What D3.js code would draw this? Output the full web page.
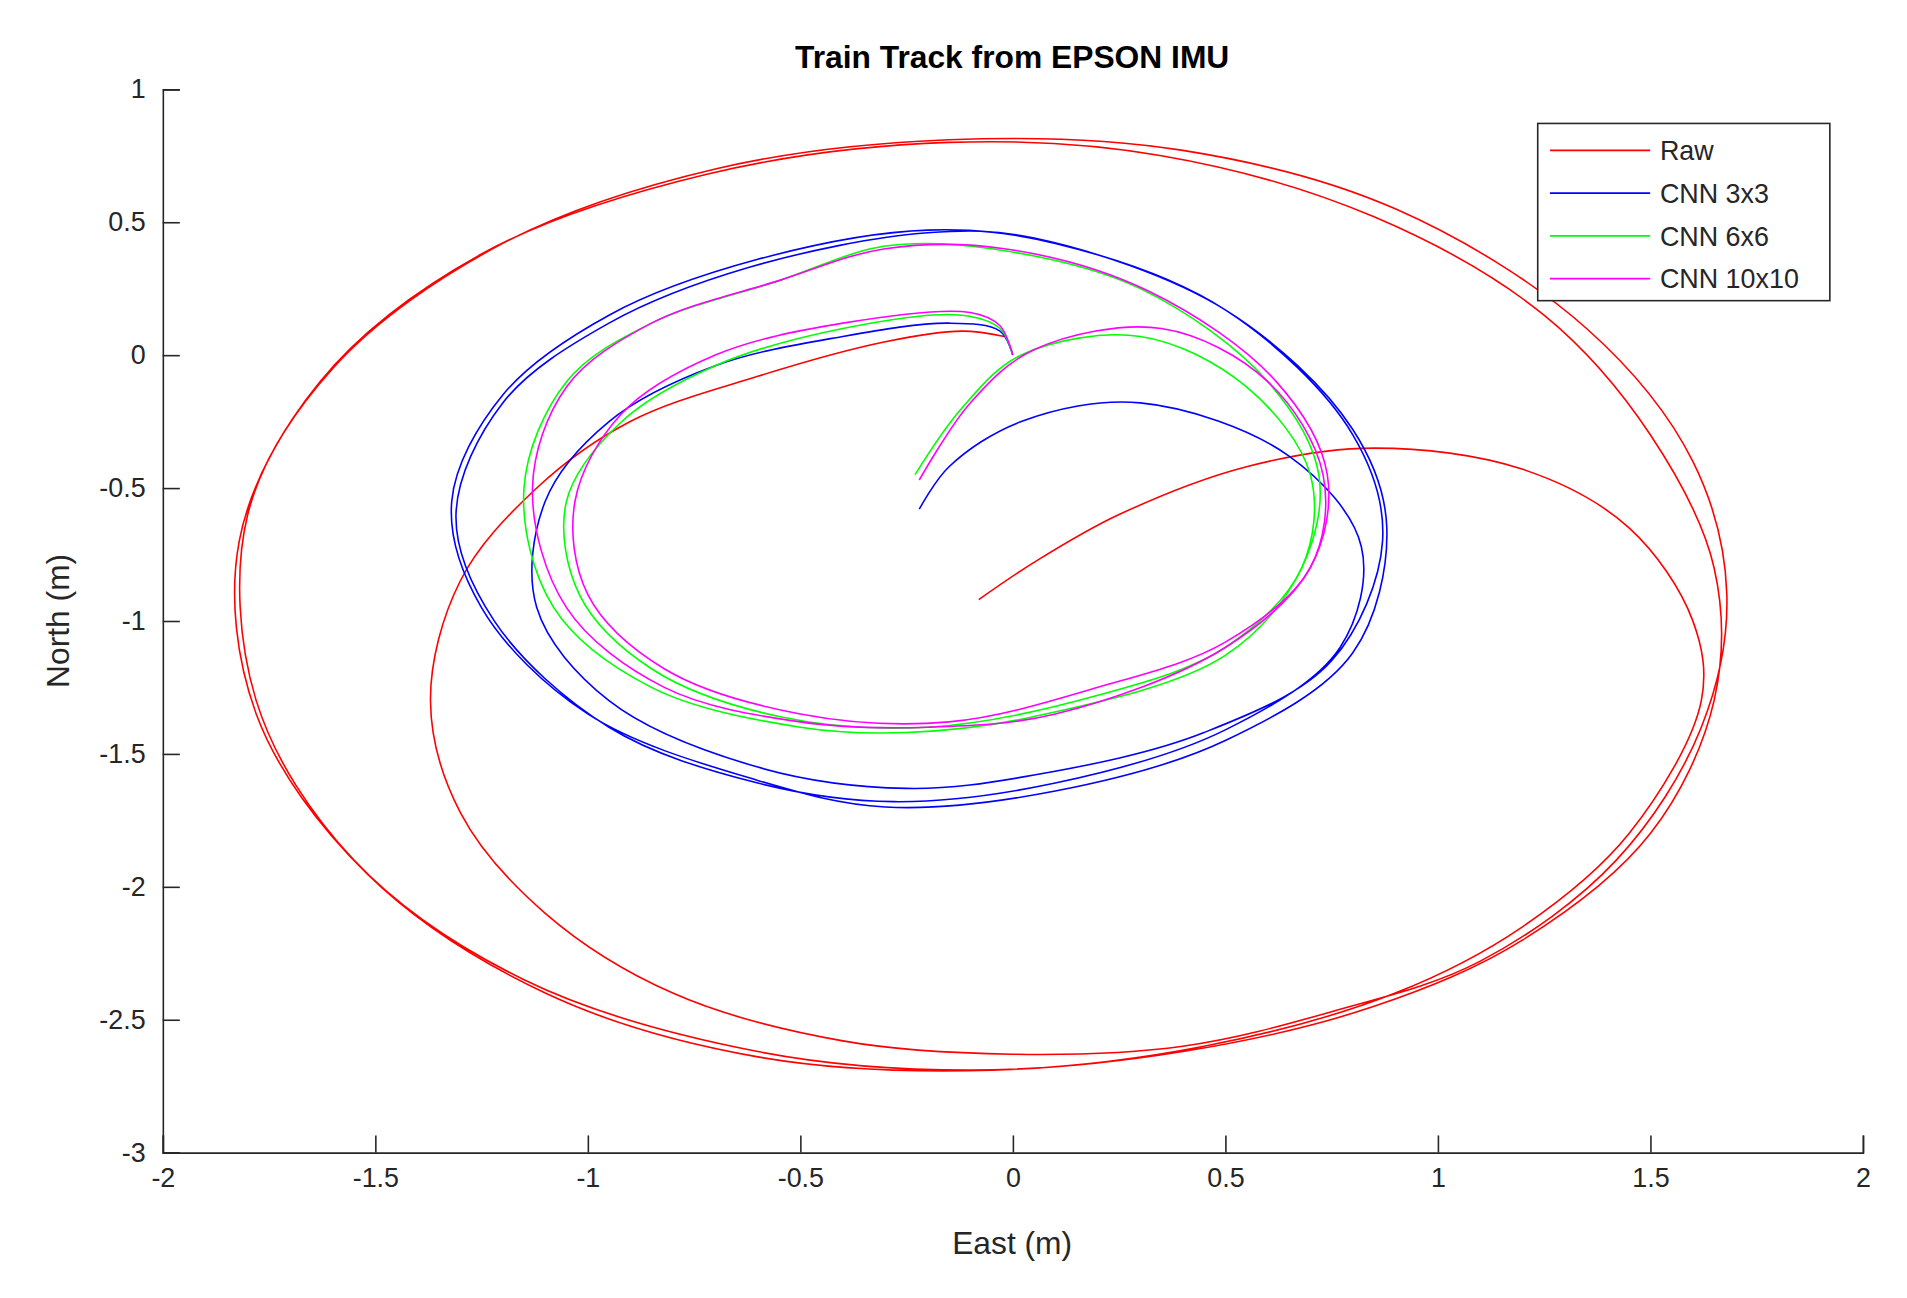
<!DOCTYPE html>
<html><head><meta charset="utf-8">
<script src="https://cdn.jsdelivr.net/npm/d3@7"></script>
<style>body{margin:0;background:#fff}text{font-family:"Liberation Sans",Arial,sans-serif}</style>
</head><body>
<svg id="c" width="1907" height="1298" viewBox="0 0 1560 1062"></svg>
<script>
const xTicks = [-2, -1.5, -1, -0.5, 0, 0.5, 1, 1.5, 2];
const yTicks = [1, 0.5, 0, -0.5, -1, -1.5, -2, -2.5, -3];

const raw = [[-0.02,0.07],[-0.12,0.09],[-0.3,0.05],[-0.6,-0.08],[-0.9,-0.25],[-1.12,-0.5],[-1.3,-0.85],[-1.37,-1.3],[-1.3,-1.72],[-1.1,-2.1],[-0.8,-2.4],[-0.4,-2.58],[0,-2.63],[0.4,-2.6],[0.75,-2.47],[1.1,-2.28],[1.42,-1.9],[1.62,-1.4],[1.68,-0.9],[1.6,-0.4],[1.35,0.1],[0.9,0.55],[0.4,0.77],[-0.15,0.81],[-0.7,0.7],[-1.2,0.42],[-1.6,-0.05],[-1.8,-0.6],[-1.78,-1.3],[-1.55,-1.9],[-1.15,-2.35],[-0.6,-2.62],[-0.1,-2.69],[0.4,-2.62],[0.85,-2.45],[1.2,-2.2],[1.5,-1.8],[1.65,-1.3],[1.65,-0.8],[1.5,-0.3],[1.25,0.15],[0.85,0.52],[0.35,0.75],[-0.15,0.8],[-0.72,0.68],[-1.25,0.38],[-1.63,-0.1],[-1.82,-0.7],[-1.78,-1.35],[-1.52,-1.95],[-1.1,-2.4],[-0.6,-2.64],[-0.05,-2.69],[0.45,-2.6],[0.9,-2.4],[1.2,-2.15],[1.45,-1.8],[1.62,-1.3],[1.6,-1.0],[1.45,-0.65],[1.2,-0.43],[0.85,-0.35],[0.55,-0.42],[0.25,-0.6],[0.05,-0.78],[-0.08,-0.92]];

const cnn3 = [[0,0],[-0.03,0.09],[-0.15,0.12],[-0.4,0.07],[-0.7,-0.04],[-0.95,-0.25],[-1.1,-0.55],[-1.12,-0.95],[-0.95,-1.3],[-0.6,-1.55],[-0.25,-1.63],[0.05,-1.58],[0.45,-1.42],[0.75,-1.15],[0.87,-0.7],[0.8,-0.3],[0.5,0.17],[0.1,0.42],[-0.2,0.47],[-0.6,0.36],[-0.95,0.15],[-1.2,-0.15],[-1.32,-0.55],[-1.25,-0.95],[-1.0,-1.35],[-0.6,-1.6],[-0.3,-1.7],[0.1,-1.64],[0.5,-1.45],[0.8,-1.12],[0.88,-0.65],[0.8,-0.28],[0.5,0.17],[0.05,0.44],[-0.2,0.46],[-0.62,0.33],[-0.95,0.12],[-1.2,-0.18],[-1.31,-0.6],[-1.22,-1.0],[-0.95,-1.4],[-0.6,-1.61],[-0.28,-1.68],[0.1,-1.61],[0.5,-1.41],[0.77,-1.1],[0.82,-0.72],[0.65,-0.38],[0.3,-0.18],[0.02,-0.25],[-0.15,-0.42],[-0.22,-0.58]];

const cnn6 = [[0,0],[-0.03,0.1],[-0.12,0.15],[-0.4,0.1],[-0.7,-0.04],[-0.92,-0.25],[-1.05,-0.55],[-1.02,-0.9],[-0.85,-1.18],[-0.55,-1.36],[-0.2,-1.4],[0.2,-1.28],[0.5,-1.1],[0.68,-0.8],[0.7,-0.45],[0.55,-0.12],[0.3,0.07],[0.02,0.0],[-0.12,-0.2],[-0.23,-0.45]];
const cnn6outer = [[0.5,-1.13],[0.68,-0.8],[0.72,-0.45],[0.6,-0.1],[0.3,0.25],[-0.05,0.4],[-0.3,0.41],[-0.55,0.28],[-0.85,0.12],[-1.05,-0.1],[-1.15,-0.5],[-1.08,-0.95],[-0.85,-1.25],[-0.5,-1.4],[-0.25,-1.42],[0.05,-1.36]];

const cnn10 = [[0,0],[-0.03,0.11],[-0.1,0.16],[-0.4,0.12],[-0.7,0.0],[-0.92,-0.22],[-1.03,-0.55],[-1.0,-0.9],[-0.82,-1.18],[-0.5,-1.35],[-0.15,-1.38],[0.2,-1.25],[0.5,-1.08],[0.7,-0.8],[0.73,-0.45],[0.6,-0.1],[0.35,0.1],[0.05,0.02],[-0.1,-0.18],[-0.22,-0.47]];
const cnn10outer = [[0.5,-1.1],[0.7,-0.8],[0.74,-0.45],[0.62,-0.1],[0.32,0.24],[-0.02,0.4],[-0.3,0.4],[-0.55,0.28],[-0.85,0.12],[-1.05,-0.12],[-1.13,-0.5],[-1.05,-0.95],[-0.82,-1.25],[-0.5,-1.38],[-0.2,-1.4],[0.1,-1.35]];

const series = [
  {name: 'Raw', color: '#ff0000', paths: [raw], loops: []},
  {name: 'CNN 3x3', color: '#0000ff', paths: [cnn3], loops: []},
  {name: 'CNN 6x6', color: '#00ff00', paths: [cnn6], loops: [cnn6outer]},
  {name: 'CNN 10x10', color: '#ff00ff', paths: [cnn10], loops: [cnn10outer]}
];

const svg = d3.select('#c');
const m = {l: 133, r: 1524, t: 73, b: 943};
const x = d3.scaleLinear().domain([-2, 2]).range([m.l, m.r]);
const y = d3.scaleLinear().domain([-3, 1]).range([m.b, m.t]);

const line = d3.line().x(d => x(d[0])).y(d => y(d[1])).curve(d3.curveCatmullRom.alpha(0.5));
const loop = d3.line().x(d => x(d[0])).y(d => y(d[1])).curve(d3.curveCatmullRomClosed.alpha(0.5));

series.forEach(s => {
  s.paths.forEach(p => {
    svg.append('path').attr('d', line(p)).attr('fill', 'none')
      .attr('stroke', s.color).attr('stroke-width', 1.3);
  });
  s.loops.forEach(p => {
    svg.append('path').attr('d', loop(p)).attr('fill', 'none')
      .attr('stroke', s.color).attr('stroke-width', 1.3);
  });
});

const fmt = d => String(d);
const xa = svg.append('g').attr('transform', `translate(0,${m.b})`)
  .call(d3.axisBottom(x).tickValues(xTicks).tickSize(-14).tickPadding(24).tickFormat(fmt));
const ya = svg.append('g').attr('transform', `translate(${m.l},0)`)
  .call(d3.axisLeft(y).tickValues(yTicks).tickSize(-14).tickPadding(14).tickFormat(fmt));
[xa, ya].forEach(a => {
  a.selectAll('text').attr('font-size', 22).attr('fill', '#262626');
  a.select('.domain').attr('stroke', '#262626').attr('stroke-width', 1.3);
  a.selectAll('.tick line').attr('stroke', '#262626').attr('stroke-width', 1.3);
});
xa.selectAll('text').attr('dy', '0.2em');

svg.append('text').attr('x', 828).attr('y', 56).attr('text-anchor', 'middle')
  .attr('font-size', 26).attr('font-weight', 'bold').text('Train Track from EPSON IMU');
svg.append('text').attr('x', 828).attr('y', 1026).attr('text-anchor', 'middle')
  .attr('font-size', 26).attr('fill', '#262626').text('East (m)');
svg.append('text').attr('transform', 'translate(56,508) rotate(-90)').attr('text-anchor', 'middle')
  .attr('font-size', 26).attr('fill', '#262626').text('North (m)');

const lg = svg.append('g');
lg.append('rect').attr('x', 1258).attr('y', 101).attr('width', 239).attr('height', 145)
  .attr('fill', '#fff').attr('stroke', '#262626').attr('stroke-width', 1.3);
series.forEach((s, i) => {
  const yy = 123 + i * 35;
  lg.append('line').attr('x1', 1268).attr('x2', 1350).attr('y1', yy).attr('y2', yy)
    .attr('stroke', s.color).attr('stroke-width', 1.5);
  lg.append('text').attr('x', 1358).attr('y', yy + 8).attr('font-size', 22).attr('fill', '#262626').text(s.name);
});
</script>
</body></html>
